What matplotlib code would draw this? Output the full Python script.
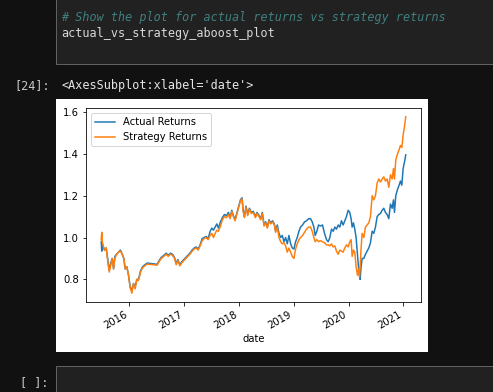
import numpy as np
import pandas as pd
import matplotlib
matplotlib.use("Agg")
import matplotlib.pyplot as plt
import matplotlib.dates as mdates
from matplotlib.patches import Rectangle

W, H = 493, 392

# decimal years
years = [
    2015.490, 2015.500, 2015.510, 2015.521, 2015.551, 2015.581, 2015.612, 2015.636,
    2015.666, 2015.691, 2015.715, 2015.739, 2015.769, 2015.806, 2015.842, 2015.873,
    2015.903, 2015.927, 2015.958, 2015.988, 2016.018, 2016.049, 2016.079, 2016.109,
    2016.140, 2016.170, 2016.206, 2016.243, 2016.285, 2016.328, 2016.510, 2016.546,
    2016.583, 2016.631, 2016.674, 2016.710, 2016.752, 2016.789, 2016.825, 2016.856,
    2016.886, 2016.922, 2016.959, 2016.995, 2017.032, 2017.068, 2017.104, 2017.147,
    2017.183, 2017.220, 2017.256, 2017.292, 2017.329, 2017.365, 2017.402, 2017.438,
    2017.475, 2017.505, 2017.535, 2017.566, 2017.596, 2017.626, 2017.663, 2017.699,
    2017.735, 2017.772, 2017.808, 2017.839, 2017.869, 2017.899, 2017.930, 2017.960,
    2017.996, 2018.027, 2018.057, 2018.075, 2018.100, 2018.130, 2018.160, 2018.191,
    2018.227, 2018.263, 2018.300, 2018.330, 2018.367, 2018.397, 2018.427, 2018.458,
    2018.488, 2018.518, 2018.549, 2018.579, 2018.615, 2018.646, 2018.670, 2018.700,
    2018.731, 2018.761, 2018.791, 2018.822, 2018.852, 2018.882, 2018.913, 2018.943,
    2018.973, 2019.004, 2019.034, 2019.064, 2019.095, 2019.125, 2019.161, 2019.198,
    2019.234, 2019.271, 2019.307, 2019.337, 2019.368, 2019.392, 2019.422, 2019.453,
    2019.489, 2019.525, 2019.562, 2019.598, 2019.629, 2019.659, 2019.689, 2019.720,
    2019.750, 2019.780, 2019.811, 2019.841, 2019.871, 2019.902, 2019.932, 2019.962,
    2019.993, 2020.023, 2020.047, 2020.066, 2020.090, 2020.114, 2020.138, 2020.163,
    2020.181, 2020.199, 2020.211, 2020.229, 2020.248, 2020.278, 2020.308, 2020.339,
    2020.369, 2020.399, 2020.430, 2020.460, 2020.490, 2020.521, 2020.551, 2020.581,
    2020.612, 2020.642, 2020.672, 2020.703, 2020.733, 2020.763, 2020.794, 2020.818,
    2020.836, 2020.860, 2020.891, 2020.921, 2020.945, 2020.970, 2020.994, 2021.018,
    2021.042,
]

actual = [
    0.980, 0.935, 0.970, 0.960, 0.940, 0.950, 0.890, 0.845,
    0.880, 0.900, 0.850, 0.910, 0.920, 0.930, 0.940, 0.920,
    0.900, 0.850, 0.860, 0.820, 0.765, 0.748, 0.780, 0.765,
    0.800, 0.800, 0.840, 0.860, 0.870, 0.878, 0.872, 0.890,
    0.905, 0.915, 0.925, 0.915, 0.925, 0.920, 0.905, 0.875,
    0.895, 0.870, 0.885, 0.895, 0.905, 0.915, 0.925, 0.940,
    0.950, 0.955, 0.945, 0.965, 0.995, 1.000, 1.005, 0.995,
    1.030, 1.045, 1.035, 1.050, 1.065, 1.045, 1.075, 1.095,
    1.110, 1.105, 1.120, 1.095, 1.130, 1.105, 1.085, 1.115,
    1.150, 1.180, 1.190, 1.135, 1.100, 1.150, 1.110, 1.140,
    1.120, 1.125, 1.100, 1.120, 1.105, 1.090, 1.120, 1.060,
    1.075, 1.050, 1.085, 1.070, 1.080, 1.065, 1.030, 1.060,
    1.020, 1.000, 1.010, 0.980, 1.000, 0.970, 1.010, 0.970,
    0.950, 0.945, 0.980, 1.000, 1.030, 1.050, 1.060, 1.075,
    1.080, 1.090, 1.090, 1.075, 1.050, 1.010, 1.030, 1.060,
    1.055, 1.060, 1.020, 0.990, 0.980, 1.000, 1.040, 1.030,
    1.050, 1.040, 1.060, 1.050, 1.080, 1.060, 1.080, 1.100,
    1.130, 1.120, 1.090, 1.050, 1.070, 1.040, 1.000, 0.920,
    0.860, 0.820, 0.800, 0.860, 0.900, 0.900, 0.920, 0.935,
    0.950, 0.975, 1.030, 1.020, 1.050, 1.100, 1.110, 1.115,
    1.130, 1.140, 1.120, 1.110, 1.090, 1.160, 1.140, 1.180,
    1.120, 1.200, 1.230, 1.250, 1.270, 1.250, 1.330, 1.360,
    1.395,
]

strategy = [
    0.990, 1.025, 0.980, 0.965, 0.940, 0.950, 0.880, 0.835,
    0.870, 0.900, 0.850, 0.900, 0.920, 0.930, 0.935, 0.920,
    0.900, 0.850, 0.860, 0.820, 0.760, 0.734, 0.780, 0.755,
    0.800, 0.795, 0.835, 0.855, 0.865, 0.873, 0.868, 0.885,
    0.900, 0.910, 0.920, 0.910, 0.920, 0.915, 0.900, 0.870,
    0.890, 0.865, 0.880, 0.890, 0.900, 0.910, 0.920, 0.935,
    0.945, 0.950, 0.940, 0.960, 0.985, 0.995, 1.000, 0.990,
    1.010, 1.020, 1.000, 1.020, 1.035, 1.030, 1.055, 1.085,
    1.100, 1.095, 1.110, 1.090, 1.125, 1.100, 1.080, 1.110,
    1.145, 1.175, 1.185, 1.130, 1.095, 1.145, 1.105, 1.135,
    1.115, 1.120, 1.095, 1.115, 1.100, 1.085, 1.115, 1.055,
    1.070, 1.045, 1.080, 1.065, 1.075, 1.060, 1.025, 1.050,
    1.000, 0.980, 0.970, 0.975, 0.960, 0.930, 0.950, 0.930,
    0.910, 0.900, 0.945, 0.970, 0.990, 1.000, 1.010, 1.025,
    1.040, 1.050, 1.050, 1.030, 1.000, 0.980, 0.990, 0.980,
    0.985, 0.980, 0.975, 0.965, 0.965, 0.960, 0.970, 0.955,
    0.960, 0.935, 0.920, 0.940, 0.935, 0.930, 0.950, 0.965,
    0.955, 0.980, 0.990, 0.910, 0.940, 0.930, 0.860, 0.820,
    0.850, 0.810, 0.860, 0.950, 1.020, 1.000, 1.050, 1.060,
    1.070, 1.100, 1.200, 1.180, 1.200, 1.260, 1.280, 1.265,
    1.280, 1.290, 1.270, 1.280, 1.240, 1.300, 1.280, 1.330,
    1.280, 1.370, 1.400, 1.420, 1.440, 1.430, 1.490, 1.530,
    1.577,
]

comment_line = "# Show the plot for actual returns vs strategy returns"
code_line = "actual_vs_strategy_aboost_plot"
out_prompt = "[24]:"
out_repr = "<AxesSubplot:xlabel='date'>"
empty_prompt = "[ ]:"


def to_dates(yrs):
    out = []
    for y in yrs:
        base = int(np.floor(y))
        start = pd.Timestamp(year=base, month=1, day=1)
        end = pd.Timestamp(year=base + 1, month=1, day=1)
        out.append(start + (end - start) * (y - base))
    return pd.DatetimeIndex(out)


def fx(x):
    return x / W


def fy(y):
    return 1 - y / H


fig = plt.figure(figsize=(W / 72, H / 72), dpi=72, facecolor="#111111")

# notebook chrome (kept behind the axes)
box = dict(transform=fig.transFigure, zorder=-10)
fig.patches.append(Rectangle((fx(56), fy(64)), (510 - 56) / W, 80 / H,
                             facecolor="#212121", edgecolor="#616161", lw=1, **box))
fig.patches.append(Rectangle((fx(56), fy(410)), (510 - 56) / W, (410 - 366) / H,
                             facecolor="#212121", edgecolor="#616161", lw=1, **box))
fig.patches.append(Rectangle((fx(56), fy(352)), (428 - 56) / W, (352 - 99) / H,
                             facecolor="white", edgecolor="none", **box))

mono = dict(family="DejaVu Sans Mono", size=11.8, va="baseline")
fig.text(fx(61), fy(21), comment_line, color="#408080", style="italic", **mono)
fig.text(fx(61), fy(37.5), code_line, color="#d8d8d8", **mono)
fig.text(fx(50), fy(89), out_prompt, color="#c8c8c8", ha="right", **mono)
fig.text(fx(61), fy(89), out_repr, color="#e6e6e6", **mono)
fig.text(fx(49), fy(386), empty_prompt, color="#c8c8c8", ha="right", **mono)

# the chart itself
ax = fig.add_axes([fx(86), fy(302), (421 - 86) / W, (302 - 108) / H])
ax.set_zorder(5)
dates = to_dates(years)
ax.plot(dates, actual, color="#1f77b4", lw=1.5, label="Actual Returns")
ax.plot(dates, strategy, color="#ff7f0e", lw=1.5, label="Strategy Returns")
ax.xaxis.set_major_locator(mdates.YearLocator())
ax.xaxis.set_major_formatter(mdates.DateFormatter("%Y"))
for lbl in ax.get_xticklabels():
    lbl.set_rotation(30)
    lbl.set_ha("right")
ax.tick_params(labelsize=10)
ax.set_xlabel("date", fontsize=10)
ax.legend(loc="upper left", fontsize=10)

fig.savefig("out.png", dpi=72, facecolor=fig.get_facecolor())
